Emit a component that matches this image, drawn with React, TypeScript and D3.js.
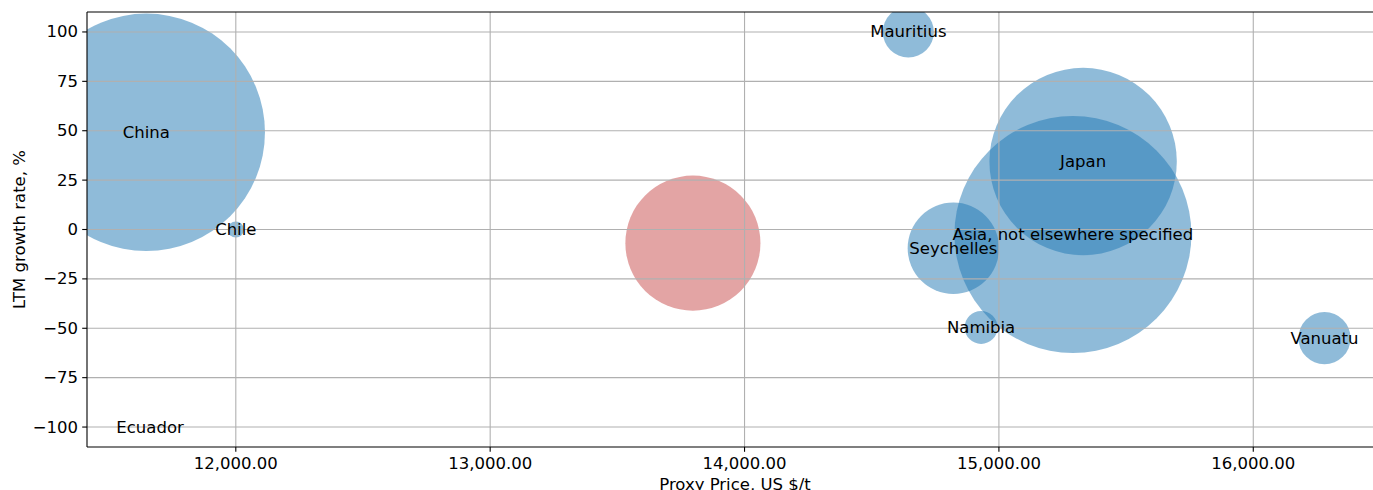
import React, { useEffect, useRef } from "react";
import * as d3 from "d3";

const countries = ["China", "Chile", "Ecuador", "", "Mauritius", "Seychelles", "Namibia", "Japan", "Asia, not elsewhere specified", "Vanuatu"];
const proxyPrice = [11648, 12000, 11663, 13797, 14644, 14821, 14930, 15331, 15291, 16280];
const growthRate = [49.2, 0, -100, -6.9, 100, -9.5, -49.6, 34.4, -2.5, -55];
const volume = [1409, 6.4, 0, 456, 65, 209, 27, 878, 1404, 68];
const highlight = [false, false, false, true, false, false, false, false, false, false];

const xTicks = [12000, 13000, 14000, 15000, 16000];
const yTicks = [-100, -75, -50, -25, 0, 25, 50, 75, 100];

const W = 1373;
const H = 490;
const M = { left: 87, top: 12, right: 1383, bottom: 447 };
const FS = 16.5;

export default function App() {
  const ref = useRef<SVGSVGElement>(null);

  useEffect(() => {
    const svg = d3.select(ref.current);
    svg.selectAll("*").remove();
    const font = "DejaVu Sans, sans-serif";

    const x = d3.scaleLinear().domain([11415, 16510]).range([M.left, M.right]);
    const y = d3.scaleLinear().domain([-110.1, 110.1]).range([M.bottom, M.top]);
    const r = d3.scaleSqrt().domain([0, 1409]).range([0, 118.7]);

    svg.append("defs").append("clipPath").attr("id", "plotclip")
      .append("rect").attr("x", M.left).attr("y", M.top)
      .attr("width", M.right - M.left).attr("height", M.bottom - M.top);

    const plot = svg.append("g").attr("clip-path", "url(#plotclip)");

    const data = countries.map((c, i) => ({
      name: c, x: proxyPrice[i], y: growthRate[i], v: volume[i], hl: highlight[i],
    }));

    plot.selectAll("circle.b").data(data).enter().append("circle")
      .attr("cx", d => x(d.x)).attr("cy", d => y(d.y)).attr("r", d => r(d.v))
      .attr("fill", d => d.hl ? "rgb(185,28,28)" : "#1f77b4")
      .attr("fill-opacity", d => d.hl ? 0.4 : 0.5);

    const grid = plot.append("g").attr("stroke", "#b0b0b0").attr("stroke-width", 1.1);
    xTicks.forEach(t => grid.append("line").attr("x1", x(t)).attr("x2", x(t)).attr("y1", M.top).attr("y2", M.bottom));
    yTicks.forEach(t => grid.append("line").attr("y1", y(t)).attr("y2", y(t)).attr("x1", M.left).attr("x2", M.right));

    plot.selectAll("text.l").data(data.filter(d => d.name)).enter().append("text")
      .attr("x", d => x(d.x)).attr("y", d => y(d.y))
      .attr("text-anchor", "middle").attr("dominant-baseline", "central")
      .attr("font-family", font).attr("font-size", FS).attr("fill", "#000")
      .text(d => d.name);

    const sp = svg.append("g").attr("stroke", "#000").attr("stroke-width", 1.1).attr("fill", "none");
    sp.append("line").attr("x1", M.left).attr("x2", M.left).attr("y1", M.top).attr("y2", M.bottom);
    sp.append("line").attr("x1", M.left).attr("x2", M.right).attr("y1", M.top).attr("y2", M.top);
    sp.append("line").attr("x1", M.left).attr("x2", M.right).attr("y1", M.bottom).attr("y2", M.bottom);
    sp.append("line").attr("x1", M.right).attr("x2", M.right).attr("y1", M.top).attr("y2", M.bottom);

    const fmt = d3.format(",.2f");
    const xa = svg.append("g");
    xTicks.forEach(t => {
      xa.append("line").attr("x1", x(t)).attr("x2", x(t)).attr("y1", M.bottom).attr("y2", M.bottom + 4.8)
        .attr("stroke", "#000").attr("stroke-width", 1.1);
      xa.append("text").attr("x", x(t)).attr("y", 469).attr("text-anchor", "middle")
        .attr("font-family", font).attr("font-size", FS).text(fmt(t));
    });
    const ya = svg.append("g");
    yTicks.forEach(t => {
      ya.append("line").attr("x1", M.left - 4.8).attr("x2", M.left).attr("y1", y(t)).attr("y2", y(t))
        .attr("stroke", "#000").attr("stroke-width", 1.1);
      ya.append("text").attr("x", 78).attr("y", y(t)).attr("text-anchor", "end")
        .attr("dominant-baseline", "central")
        .attr("font-family", font).attr("font-size", FS).text(String(t).replace("-", "\u2212"));
    });

    svg.append("text").attr("x", (M.left + M.right) / 2).attr("y", 490).attr("text-anchor", "middle")
      .attr("font-family", font).attr("font-size", FS).text("Proxy Price, US $/t");
    svg.append("text").attr("transform", `translate(25,${(M.top + M.bottom) / 2}) rotate(-90)`)
      .attr("text-anchor", "middle")
      .attr("font-family", font).attr("font-size", FS).text("LTM growth rate, %");
  }, []);

  return (
    <svg ref={ref} width={W} height={H}
      style={{ position: "absolute", left: 0, top: 0, background: "#fff", display: "block" }} />
  );
}
